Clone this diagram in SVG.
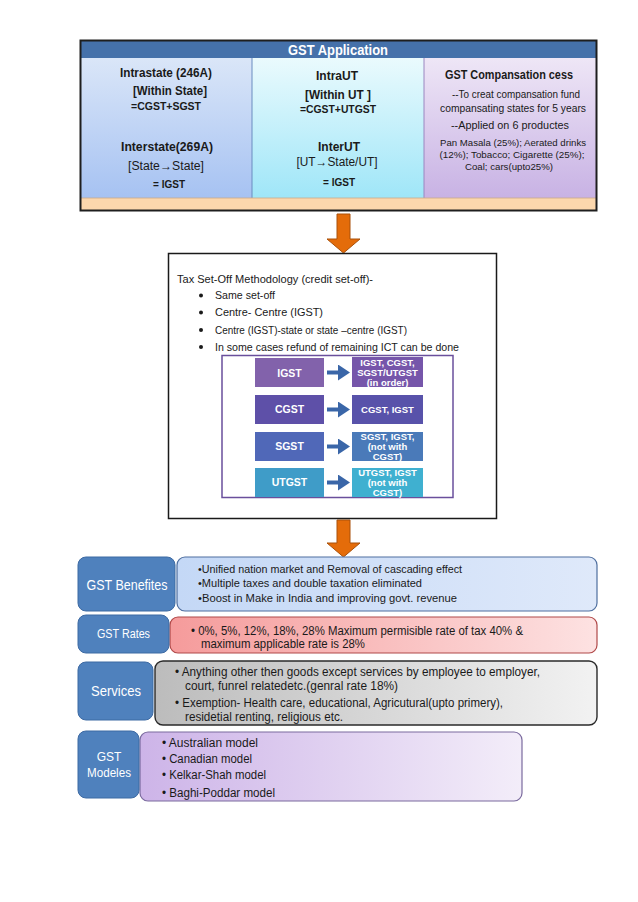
<svg xmlns="http://www.w3.org/2000/svg" width="638" height="902" viewBox="0 0 638 902">
<defs>
<linearGradient id="gC1" x1="0" y1="0" x2="0" y2="1"><stop offset="0" stop-color="#dae6f8"/><stop offset="1" stop-color="#a6c2f2"/></linearGradient>
<linearGradient id="gC2" x1="0" y1="0" x2="0" y2="1"><stop offset="0" stop-color="#eafafd"/><stop offset="1" stop-color="#9fe6f8"/></linearGradient>
<linearGradient id="gC3" x1="0" y1="0" x2="0" y2="1"><stop offset="0" stop-color="#eee6f6"/><stop offset="1" stop-color="#c8b2e4"/></linearGradient>
<linearGradient id="gBen" x1="0" y1="0" x2="1" y2="0"><stop offset="0" stop-color="#c4d8f6"/><stop offset="1" stop-color="#dfe9fa"/></linearGradient>
<linearGradient id="gRat" x1="0" y1="0" x2="1" y2="0"><stop offset="0" stop-color="#f59b9b"/><stop offset="1" stop-color="#fde2e2"/></linearGradient>
<linearGradient id="gSer" x1="0" y1="0" x2="1" y2="0"><stop offset="0" stop-color="#bcbcbc"/><stop offset="1" stop-color="#f2f2f2"/></linearGradient>
<linearGradient id="gMod" x1="0" y1="0" x2="1" y2="0"><stop offset="0" stop-color="#cdb4e8"/><stop offset="1" stop-color="#f3edf9"/></linearGradient>
<marker id="bArrow" markerWidth="4" markerHeight="4" refX="1" refY="2" orient="auto" markerUnits="strokeWidth"><path d="M0,0 L3,2 L0,4 Z" fill="#3a66a8"/></marker>
</defs>
<style>
text{font-family:"Liberation Sans",Arial,sans-serif;fill:#1a1a1a}
.b{font-weight:bold}
.c{text-anchor:middle}
.w{fill:#ffffff}
.lab{fill:#4f81bd;stroke:#3d6aa3;stroke-width:1}
.sm{font-size:11px}
.tb{font-size:9.5px;font-weight:bold;fill:#ffffff;text-anchor:middle}
.tl{font-size:10.5px;font-weight:bold;fill:#ffffff;text-anchor:middle}
.ba{stroke:#3a66a8;stroke-width:4;fill:none}
.oa{fill:#e46c0a;stroke:#a9510a;stroke-width:1}
</style>
<rect width="638" height="902" fill="#ffffff"/>

<g id="gst-application">
<rect x="81" y="58" width="171" height="140" fill="url(#gC1)"/>
<rect x="252" y="58" width="172" height="140" fill="url(#gC2)"/>
<rect x="424" y="58" width="172" height="140" fill="url(#gC3)"/>
<line x1="252" y1="58" x2="252" y2="198" stroke="#6a8cc0" stroke-width="1"/>
<line x1="424" y1="58" x2="424" y2="198" stroke="#9a86c0" stroke-width="1"/>
<rect x="81" y="41" width="515" height="17" fill="#4571aa"/>
<rect x="81" y="198" width="515" height="12" fill="#fcd7ad"/>
<line x1="81" y1="198" x2="596" y2="198" stroke="#c9a888" stroke-width="0.8"/>
<rect x="80.5" y="40.5" width="516" height="170" fill="none" stroke="#1e1e1e" stroke-width="2"/>
<text x="338" y="55" class="b c w" font-size="14" textLength="100" lengthAdjust="spacingAndGlyphs">GST Application</text>

<text x="166" y="77" class="b c" font-size="12" textLength="92" lengthAdjust="spacingAndGlyphs">Intrastate (246A)</text>
<text x="170" y="95" class="b c" font-size="12" textLength="74" lengthAdjust="spacingAndGlyphs">[Within State]</text>
<text x="166" y="110" class="b c" font-size="11.5" textLength="70" lengthAdjust="spacingAndGlyphs">=CGST+SGST</text>
<text x="167" y="151" class="b c" font-size="12" textLength="92" lengthAdjust="spacingAndGlyphs">Interstate(269A)</text>
<text x="166" y="170" class="c" font-size="12" textLength="76" lengthAdjust="spacingAndGlyphs">[State→State]</text>
<text x="169" y="188" class="b c" font-size="11.5" textLength="32" lengthAdjust="spacingAndGlyphs">= IGST</text>

<text x="337" y="80" class="b c" font-size="12" textLength="42" lengthAdjust="spacingAndGlyphs">IntraUT</text>
<text x="338" y="99" class="b c" font-size="12" textLength="66" lengthAdjust="spacingAndGlyphs">[Within UT ]</text>
<text x="338" y="113" class="b c" font-size="11.5" textLength="76" lengthAdjust="spacingAndGlyphs">=CGST+UTGST</text>
<text x="339" y="151" class="b c" font-size="12" textLength="42" lengthAdjust="spacingAndGlyphs">InterUT</text>
<text x="337" y="166" class="c" font-size="12" textLength="81" lengthAdjust="spacingAndGlyphs">[UT→State/UT]</text>
<text x="339" y="186" class="b c" font-size="11.5" textLength="32" lengthAdjust="spacingAndGlyphs">= IGST</text>

<text x="509" y="79" class="b c" font-size="12" textLength="128" lengthAdjust="spacingAndGlyphs">GST Compansation cess</text>
<text x="516" y="98" class="c" font-size="11" textLength="128" lengthAdjust="spacingAndGlyphs">--To creat compansation fund</text>
<text x="513" y="112" class="c" font-size="11" textLength="146" lengthAdjust="spacingAndGlyphs">compansating states for 5 years</text>
<text x="510" y="129" class="c" font-size="11" textLength="118" lengthAdjust="spacingAndGlyphs">--Applied on 6 productes</text>
<text x="513" y="146" class="c" font-size="9.5" textLength="146" lengthAdjust="spacingAndGlyphs">Pan Masala (25%);   Aerated drinks</text>
<text x="512" y="158" class="c" font-size="9.5" textLength="145" lengthAdjust="spacingAndGlyphs">(12%);  Tobacco;   Cigarette (25%);</text>
<text x="509" y="170" class="c" font-size="9.5" textLength="88" lengthAdjust="spacingAndGlyphs">Coal;  cars(upto25%)</text>
</g>

<g id="connectors">
<path class="oa" d="M337,214 L350,214 L350,239 L360,239 L343.5,253 L327,239 L337,239 Z"/>
<path class="oa" d="M337,520 L350,520 L350,543 L360,543 L343.5,557 L327,543 L337,543 Z"/>
</g>

<g id="tax-setoff">
<rect x="168.5" y="253.5" width="328" height="265" fill="#ffffff" stroke="#1a1a1a" stroke-width="1.5"/>
<text x="177" y="283" class="sm" textLength="196" lengthAdjust="spacingAndGlyphs">Tax Set-Off Methodology (credit set-off)-</text>
<circle cx="201" cy="295.5" r="2" fill="#1a1a1a"/>
<text x="215" y="299" class="sm" textLength="60" lengthAdjust="spacingAndGlyphs">Same set-off</text>
<circle cx="201" cy="312.5" r="2" fill="#1a1a1a"/>
<text x="215" y="316" class="sm" textLength="108" lengthAdjust="spacingAndGlyphs">Centre- Centre (IGST)</text>
<circle cx="201" cy="330" r="2" fill="#1a1a1a"/>
<text x="215" y="334" class="sm" textLength="192" lengthAdjust="spacingAndGlyphs">Centre (IGST)-state or state –centre (IGST)</text>
<circle cx="201" cy="347" r="2" fill="#1a1a1a"/>
<text x="215" y="351" class="sm" textLength="244" lengthAdjust="spacingAndGlyphs">In some cases refund of remaining ICT can be done</text>
</g>

<g id="setoff-table">
<rect x="222" y="355.5" width="231" height="142" fill="#ffffff" stroke="#6a4f9c" stroke-width="1.5"/>
<g id="row-igst">
<rect x="255" y="358" width="69" height="29" fill="#8262ab"/>
<text x="289.5" y="376.5" class="tl">IGST</text>
<rect x="352" y="357" width="71" height="30" fill="#7656aa"/>
<text x="387.5" y="366" class="tb">IGST, CGST,</text>
<text x="387.5" y="376" class="tb">SGST/UTGST</text>
<text x="387.5" y="386" class="tb">(in order)</text>
</g>
<g id="row-cgst">
<rect x="255" y="395" width="69" height="29" fill="#5e50a8"/>
<text x="289.5" y="413" class="tl">CGST</text>
<rect x="352" y="395" width="71" height="29" fill="#5852aa"/>
<text x="387.5" y="413" class="tb" font-size="10">CGST, IGST</text>
</g>
<g id="row-sgst">
<rect x="255" y="432" width="69" height="29" fill="#5068b8"/>
<text x="289.5" y="450" class="tl">SGST</text>
<rect x="352" y="432" width="71" height="29" fill="#4a7ab9"/>
<text x="387.5" y="440" class="tb">SGST, IGST,</text>
<text x="387.5" y="450" class="tb">(not with</text>
<text x="387.5" y="460" class="tb">CGST)</text>
</g>
<g id="row-utgst">
<rect x="255" y="468" width="69" height="29" fill="#3f9cc8"/>
<text x="289.5" y="486" class="tl">UTGST</text>
<rect x="352" y="468" width="71" height="29" fill="#3fb0d0"/>
<text x="387.5" y="476" class="tb">UTGST, IGST</text>
<text x="387.5" y="486" class="tb">(not with</text>
<text x="387.5" y="496" class="tb">CGST)</text>
</g>
<g id="table-arrows">
<line class="ba" x1="327" y1="372.5" x2="342" y2="372.5" marker-end="url(#bArrow)"/>
<line class="ba" x1="327" y1="409.5" x2="342" y2="409.5" marker-end="url(#bArrow)"/>
<line class="ba" x1="327" y1="446.5" x2="342" y2="446.5" marker-end="url(#bArrow)"/>
<line class="ba" x1="327" y1="482.5" x2="342" y2="482.5" marker-end="url(#bArrow)"/>
</g>
</g>

<g id="gst-benefites">
<rect x="177" y="557" width="420" height="54" rx="8" fill="url(#gBen)" stroke="#4f6f9f" stroke-width="1.2"/>
<rect x="78" y="557" width="97" height="54" rx="8" class="lab"/>
<text x="127" y="590" class="c w" font-size="14" textLength="81" lengthAdjust="spacingAndGlyphs">GST Benefites</text>
<text x="198" y="573" class="sm" textLength="264" lengthAdjust="spacingAndGlyphs">•Unified nation market and Removal of cascading effect</text>
<text x="198" y="587" class="sm" textLength="224" lengthAdjust="spacingAndGlyphs">•Multiple taxes and double taxation eliminated</text>
<text x="198" y="602" class="sm" textLength="259" lengthAdjust="spacingAndGlyphs">•Boost in Make in India and improving govt. revenue</text>
</g>

<g id="gst-rates">
<rect x="170" y="617" width="427" height="36" rx="8" fill="url(#gRat)" stroke="#b04848" stroke-width="1.2"/>
<rect x="78" y="615" width="91" height="38" rx="8" class="lab"/>
<text x="123.5" y="638" class="c w" font-size="12" textLength="53" lengthAdjust="spacingAndGlyphs">GST Rates</text>
<text x="191" y="635" font-size="12" textLength="332" lengthAdjust="spacingAndGlyphs">• 0%, 5%, 12%, 18%, 28% Maximum permisible rate of tax 40% &amp;</text>
<text x="201" y="648" font-size="12" textLength="164" lengthAdjust="spacingAndGlyphs">maximum applicable rate is 28%</text>
</g>

<g id="services">
<rect x="155" y="661" width="442" height="64" rx="8" fill="url(#gSer)" stroke="#2a2a2a" stroke-width="1.4"/>
<rect x="78" y="662" width="75" height="58" rx="8" class="lab"/>
<text x="116" y="696" class="c w" font-size="14.5" textLength="50" lengthAdjust="spacingAndGlyphs">Services</text>
<text x="175" y="676" font-size="12" textLength="365" lengthAdjust="spacingAndGlyphs">• Anything other then goods except services by employee to employer,</text>
<text x="185" y="690" font-size="12" textLength="213" lengthAdjust="spacingAndGlyphs">court, funrel relatedetc.(genral  rate 18%)</text>
<text x="175" y="707" font-size="12" textLength="328" lengthAdjust="spacingAndGlyphs">• Exemption- Health care, educational, Agricutural(upto primery),</text>
<text x="185" y="721" font-size="12" textLength="158" lengthAdjust="spacingAndGlyphs">residetial renting, religious etc.</text>
</g>

<g id="gst-modeles">
<rect x="140" y="732" width="382" height="69" rx="8" fill="url(#gMod)" stroke="#7a6a9e" stroke-width="1.2"/>
<rect x="78" y="731" width="61" height="67" rx="8" class="lab"/>
<text x="109" y="761" class="c w" font-size="12">GST</text>
<text x="109" y="777" class="c w" font-size="12" textLength="44" lengthAdjust="spacingAndGlyphs">Modeles</text>
<text x="162" y="747" font-size="12" textLength="96" lengthAdjust="spacingAndGlyphs">• Australian model</text>
<text x="162" y="763" font-size="12" textLength="90" lengthAdjust="spacingAndGlyphs">• Canadian model</text>
<text x="162" y="779" font-size="12" textLength="104" lengthAdjust="spacingAndGlyphs">• Kelkar-Shah model</text>
<text x="162" y="797" font-size="12" textLength="113" lengthAdjust="spacingAndGlyphs">• Baghi-Poddar model</text>
</g>
</svg>
